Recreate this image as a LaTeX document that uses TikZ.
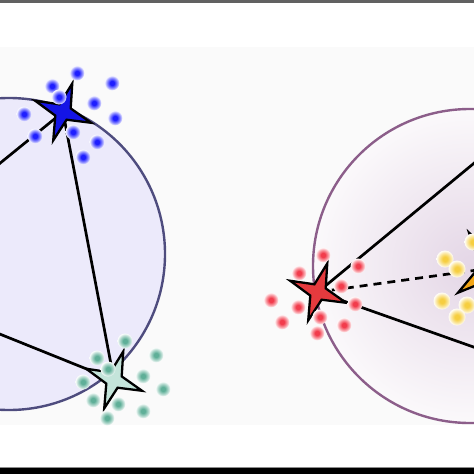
\documentclass[tikz,border=0pt]{standalone}
\usepackage{xcolor}
\definecolor{leftfill}{HTML}{ECEAFB}
\definecolor{leftedge}{HTML}{4E4C7E}
\definecolor{rightedge}{HTML}{8C5E8A}
\definecolor{rightglow}{HTML}{E4D6E6}
\definecolor{rightpale}{HTML}{FBF9FB}
\definecolor{starblue}{HTML}{1414E6}
\definecolor{starmint}{HTML}{C4E4DA}
\definecolor{starred}{HTML}{E53A3E}
\definecolor{staramber}{HTML}{F2A516}
\definecolor{dotblue}{HTML}{1E1EFF}
\definecolor{dotmint}{HTML}{5FAF98}
\definecolor{dotred}{HTML}{F23C4C}
\definecolor{dotyellow}{HTML}{F6CE40}
\colorlet{glowcol}{dotblue}
\usepackage{tikz}
\pgfdeclareradialshading[glowcol]{glow}{\pgfpoint{0bp}{0bp}}{%
  color(0bp)=(glowcol); color(7bp)=(glowcol); color(17bp)=(glowcol!50!white);
  color(25bp)=(glowcol!3!white); color(50bp)=(glowcol!3!white)}

\begin{document}
\begin{tikzpicture}[
  x=1pt, y=-1pt,
  link/.style={line width=2.7pt, draw=black},
  hint/.style={link, dash pattern=on 8pt off 6pt},
  rim/.style={line width=2.4pt},
  glowdot/.style={shading=glow},
  spark/.pic={
    \draw[line width=2.3pt, line join=miter, fill=#1]
      (21:30) -- (65:8.5) -- (109:30) -- (155:8.5) -- (202:30) -- (245:8.5)
      -- (288:30) -- (335:8.5) -- cycle;
  },
  ]
  \useasboundingbox (0,0) rectangle (474,474);
  \clip (0,0) rectangle (474,474);
  % background and frame bars
  \fill[white] (0,0) rectangle (474,474);
  \fill[black!2] (0,47) rectangle (474,425);
  \fill[black!62] (0,0) rectangle (474,3);
  \fill[black] (0,467) rectangle (474,474);
  \draw[black!45, line width=1pt] (0,467.5) -- (474,467.5);

  % the two spheres
  \draw[rim, draw=leftedge, fill=leftfill] (9,254) circle (156);
  \shade[inner color=rightglow, outer color=rightpale] (470,266) circle (157);
  \draw[rim, draw=rightedge] (470,266) circle (157);

  % star positions
  \coordinate (blue) at (63,112);
  \coordinate (mint) at (114,380);
  \coordinate (red) at (318,292);
  \coordinate (amber) at (492,268);
  \coordinate (outA) at (-60,212);
  \coordinate (outB) at (-60,310);
  \coordinate (outC) at (530,117);
  \coordinate (outD) at (530,367);

  % links
  \draw[link] (blue) -- (outA);
  \draw[link] (blue) -- (mint);
  \draw[link] (mint) -- (outB);
  \draw[link] (red) -- (outC);
  \draw[link] (red) -- (outD);
  \draw[hint] (red) -- (amber);

  % stars
  \pic at (blue) {spark=starblue};
  \pic at (mint) {spark=starmint};
  \pic at (red) {spark=starred};
  \pic[rotate=-35, scale=1.4] at (amber) {spark=staramber};

  % glowing dots
  \colorlet{glowcol}{dotblue}
  \foreach \x/\y in {77/73, 52/86, 112/83, 59/97, 94/103, 24/114, 115/118,
                     73/132, 35/136, 97/142, 83/157}
    \shade[glowdot] (\x,\y) circle (7.5);
  \colorlet{glowcol}{dotmint}
  \foreach \x/\y in {125/341, 156/355, 97/358, 108/369, 143/376, 83/382,
                     163/389, 93/400, 118/404, 143/411, 107/418}
    \shade[glowdot] (\x,\y) circle (7.5);
  \colorlet{glowcol}{dotred}
  \foreach \x/\y in {323/255, 299/273, 358/266, 341/286, 271/300, 298/307,
                     355/304, 282/322, 320/317, 344/325, 317/333}
    \shade[glowdot] (\x,\y) circle (7.5);
  \colorlet{glowcol}{dotyellow}
  \foreach \x/\y in {473/242, 445/259, 457/269, 442/301, 467/305, 457/317}
    \shade[glowdot] (\x,\y) circle (8.5);
\end{tikzpicture}
\end{document}
